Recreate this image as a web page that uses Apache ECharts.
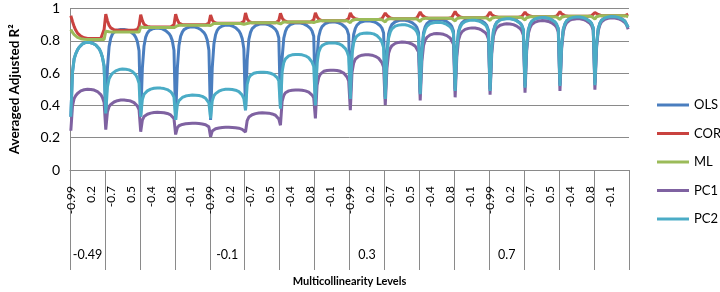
<!DOCTYPE html>
<html>
<head>
<meta charset="utf-8">
<script src="https://cdn.jsdelivr.net/npm/echarts@6.0.0/dist/echarts.min.js"></script>
<style>
  html, body { margin: 0; padding: 0; background: #fff; }
  #chart { width: 720px; height: 292px; }
</style>
</head>
<body>
<div id="chart"></div>
<script>
// inner rho level (21 per block), 16 blocks, outer level label every 4 blocks
const rhoInner = ['-0.99', '-0.9', '-0.8', '-0.7', '-0.6', '-0.5', '-0.4', '-0.3', '-0.2', '-0.1', '0',
  '0.1', '0.2', '0.3', '0.4', '0.5', '0.6', '0.7', '0.8', '0.9', '0.99'];
const blockCount = 16;
const outerLabels = ['-0.49', '', '', '', '-0.1', '', '', '', '0.3', '', '', '', '0.7', '', '', ''];
const seriesNames = ['OLS', 'COR', 'ML', 'PC1', 'PC2'];

// one row per block
const olsR2 = [
  [.33,.606,.689,.721,.744,.760,.772,.781,.785,.79,.79,.79,.788,.785,.781,.774,.765,.751,.730,.698,.643],
  [.34,.631,.764,.817,.841,.854,.862,.866,.868,.87,.87,.87,.868,.866,.862,.856,.849,.838,.822,.796,.738],
  [.33,.631,.768,.823,.848,.862,.869,.874,.876,.878,.878,.878,.876,.874,.869,.863,.856,.845,.829,.801,.741],
  [.31,.627,.771,.828,.854,.869,.877,.881,.884,.886,.886,.886,.884,.881,.877,.870,.863,.851,.834,.805,.742],
  [.31,.633,.780,.838,.865,.879,.888,.892,.895,.897,.897,.897,.895,.892,.888,.881,.874,.862,.844,.815,.750],
  [.37,.680,.809,.852,.875,.887,.894,.899,.902,.904,.905,.905,.904,.902,.899,.894,.888,.881,.870,.854,.819],
  [.39,.692,.817,.859,.881,.893,.901,.905,.908,.910,.911,.911,.910,.908,.905,.901,.894,.888,.877,.861,.828],
  [.41,.704,.826,.866,.888,.900,.907,.911,.914,.916,.917,.917,.916,.914,.911,.907,.901,.894,.884,.869,.836],
  [.45,.725,.839,.877,.897,.908,.915,.918,.921,.923,.924,.924,.923,.921,.918,.915,.909,.903,.893,.879,.848],
  [.45,.727,.842,.880,.901,.912,.918,.922,.925,.927,.928,.928,.927,.925,.922,.918,.913,.906,.897,.883,.852],
  [.48,.742,.851,.887,.906,.917,.923,.927,.929,.931,.932,.932,.931,.929,.927,.923,.918,.912,.903,.889,.860],
  [.50,.753,.858,.892,.911,.921,.927,.931,.933,.935,.936,.936,.935,.933,.931,.927,.922,.916,.908,.895,.866],
  [.50,.755,.861,.896,.915,.925,.931,.935,.937,.939,.940,.940,.939,.937,.935,.931,.926,.920,.911,.898,.870],
  [.52,.766,.868,.902,.920,.930,.936,.939,.941,.943,.944,.944,.943,.941,.939,.936,.930,.925,.916,.904,.876],
  [.53,.772,.872,.905,.923,.933,.939,.942,.944,.946,.947,.947,.946,.944,.942,.939,.934,.928,.920,.907,.880],
  [.54,.778,.876,.909,.927,.936,.942,.945,.948,.949,.950,.950,.949,.948,.945,.942,.937,.932,.923,.911,.884]
];
const corR2 = [
  [.955,.920,.888,.865,.848,.837,.829,.823,.819,.816,.814,.814,.814,.814,.814,.814,.814,.814,.814,.820,.870],
  [.965,.925,.895,.880,.872,.868,.866,.865,.865,.865,.865,.865,.865,.865,.865,.865,.865,.865,.865,.870,.890],
  [.962,.925,.902,.893,.889,.887,.886,.886,.886,.886,.886,.886,.886,.886,.886,.886,.886,.886,.886,.888,.900],
  [.965,.930,.910,.903,.900,.899,.899,.899,.899,.899,.899,.899,.899,.899,.899,.899,.899,.899,.899,.900,.910],
  [.960,.930,.915,.910,.908,.908,.908,.908,.908,.908,.908,.908,.908,.908,.908,.908,.908,.908,.908,.910,.920],
  [.972,.936,.921,.915,.911,.911,.911,.911,.911,.911,.911,.911,.911,.911,.911,.911,.911,.911,.911,.915,.925],
  [.970,.942,.927,.921,.917,.917,.917,.917,.917,.917,.917,.917,.917,.917,.917,.917,.917,.917,.917,.921,.931],
  [.973,.949,.934,.928,.924,.924,.924,.924,.924,.924,.924,.924,.924,.924,.924,.924,.924,.924,.924,.928,.938],
  [.973,.952,.942,.936,.932,.932,.932,.932,.932,.932,.932,.932,.932,.932,.932,.932,.932,.932,.932,.936,.946],
  [.972,.957,.947,.941,.937,.937,.937,.937,.937,.937,.937,.937,.937,.937,.937,.937,.937,.937,.937,.941,.951],
  [.978,.960,.950,.944,.940,.940,.940,.940,.940,.940,.940,.940,.940,.940,.940,.940,.940,.940,.940,.944,.954],
  [.982,.963,.953,.947,.943,.943,.943,.943,.943,.943,.943,.943,.943,.943,.943,.943,.943,.943,.943,.947,.957],
  [.978,.961,.956,.950,.946,.946,.946,.946,.946,.946,.946,.946,.946,.946,.946,.946,.946,.946,.946,.950,.960],
  [.978,.964,.959,.953,.949,.949,.949,.949,.949,.949,.949,.949,.949,.949,.949,.949,.949,.949,.949,.953,.963],
  [.980,.967,.962,.956,.952,.952,.952,.952,.952,.952,.952,.952,.952,.952,.952,.952,.952,.952,.952,.956,.965],
  [.975,.970,.963,.958,.955,.955,.955,.955,.955,.955,.955,.955,.955,.955,.955,.955,.955,.955,.955,.958,.966]
];
const mlR2 = [
  [.870,.852,.838,.828,.821,.816,.813,.811,.810,.809,.808,.808,.808,.808,.808,.808,.808,.808,.808,.808,.808],
  [.860,.857,.856,.855,.855,.855,.855,.855,.855,.855,.855,.855,.855,.855,.855,.855,.855,.855,.855,.855,.855],
  [.885,.883,.882,.882,.882,.882,.882,.882,.882,.882,.882,.882,.882,.882,.882,.882,.882,.882,.882,.882,.882],
  [.885,.893,.897,.897,.897,.897,.897,.897,.897,.897,.897,.897,.897,.897,.897,.897,.897,.897,.897,.897,.893],
  [.895,.903,.907,.907,.907,.907,.907,.907,.907,.907,.907,.907,.907,.907,.907,.907,.907,.907,.907,.907,.903],
  [.899,.907,.911,.911,.911,.911,.911,.911,.911,.911,.911,.911,.911,.911,.911,.911,.911,.911,.911,.911,.907],
  [.905,.913,.917,.917,.917,.917,.917,.917,.917,.917,.917,.917,.917,.917,.917,.917,.917,.917,.917,.917,.913],
  [.912,.920,.924,.924,.924,.924,.924,.924,.924,.924,.924,.924,.924,.924,.924,.924,.924,.924,.924,.924,.920],
  [.912,.926,.932,.932,.932,.932,.932,.932,.932,.932,.932,.932,.932,.932,.932,.932,.932,.932,.932,.930,.926],
  [.917,.931,.937,.937,.937,.937,.937,.937,.937,.937,.937,.937,.937,.937,.937,.937,.937,.937,.937,.935,.931],
  [.920,.934,.940,.940,.940,.940,.940,.940,.940,.940,.940,.940,.940,.940,.940,.940,.940,.940,.940,.938,.934],
  [.923,.937,.943,.943,.943,.943,.943,.943,.943,.943,.943,.943,.943,.943,.943,.943,.943,.943,.943,.941,.937],
  [.926,.940,.946,.946,.946,.946,.946,.946,.946,.946,.946,.946,.946,.946,.946,.946,.946,.946,.946,.944,.940],
  [.929,.943,.949,.949,.949,.949,.949,.949,.949,.949,.949,.949,.949,.949,.949,.949,.949,.949,.949,.947,.943],
  [.932,.946,.952,.952,.952,.952,.952,.952,.952,.952,.952,.952,.952,.952,.952,.952,.952,.952,.952,.950,.946],
  [.935,.949,.955,.955,.955,.955,.955,.955,.955,.955,.955,.955,.955,.955,.955,.955,.955,.955,.955,.953,.949]
];
const pc1R2 = [
  [.243,.397,.443,.461,.474,.483,.490,.495,.497,.500,.500,.500,.499,.497,.495,.491,.486,.478,.467,.449,.418],
  [.25,.360,.393,.406,.415,.421,.426,.429,.431,.433,.433,.433,.432,.431,.429,.427,.423,.417,.409,.396,.374],
  [.237,.309,.331,.339,.345,.349,.352,.355,.356,.357,.357,.357,.356,.356,.355,.353,.350,.347,.341,.333,.319],
  [.22,.261,.274,.279,.282,.285,.286,.288,.288,.289,.289,.289,.289,.288,.288,.287,.285,.283,.280,.275,.267],
  [.206,.241,.251,.255,.258,.260,.262,.263,.263,.264,.264,.264,.264,.263,.263,.262,.261,.259,.256,.252,.245],
  [.235,.306,.328,.336,.342,.346,.349,.352,.353,.354,.354,.354,.353,.353,.352,.350,.347,.344,.339,.330,.316],
  [.277,.425,.462,.478,.485,.490,.492,.494,.495,.495,.495,.495,.495,.494,.492,.490,.486,.482,.475,.464,.447],
  [.32,.523,.573,.594,.605,.611,.614,.616,.617,.618,.618,.618,.617,.616,.614,.611,.606,.600,.591,.576,.552],
  [.371,.604,.662,.686,.698,.704,.709,.711,.712,.713,.713,.713,.712,.711,.709,.704,.699,.692,.682,.665,.638],
  [.402,.628,.722,.753,.770,.779,.784,.787,.790,.791,.792,.792,.791,.790,.787,.784,.780,.774,.767,.755,.730],
  [.43,.671,.770,.804,.821,.831,.837,.840,.843,.844,.845,.845,.844,.843,.840,.837,.832,.826,.818,.806,.779],
  [.45,.699,.803,.837,.855,.865,.871,.875,.877,.879,.880,.880,.879,.877,.875,.871,.866,.861,.852,.839,.811],
  [.466,.721,.826,.861,.880,.890,.896,.900,.902,.904,.905,.905,.904,.902,.900,.896,.891,.885,.876,.863,.835],
  [.479,.738,.845,.880,.900,.910,.916,.920,.922,.924,.925,.925,.924,.922,.920,.916,.911,.905,.896,.883,.854],
  [.489,.749,.856,.892,.911,.922,.928,.932,.934,.936,.937,.937,.936,.934,.932,.928,.923,.917,.908,.894,.865],
  [.497,.755,.862,.898,.917,.927,.933,.937,.939,.941,.942,.942,.941,.939,.937,.933,.928,.922,.913,.900,.871]
];
const pc2R2 = [
  [.33,.606,.689,.721,.744,.760,.772,.781,.785,.79,.79,.79,.788,.785,.781,.774,.765,.751,.730,.698,.643],
  [.35,.515,.565,.584,.598,.607,.614,.620,.622,.625,.625,.625,.624,.622,.620,.615,.610,.602,.589,.570,.537],
  [.33,.437,.469,.481,.490,.496,.501,.504,.506,.508,.508,.508,.507,.506,.504,.502,.498,.493,.485,.472,.451],
  [.31,.402,.430,.441,.449,.454,.458,.461,.462,.464,.464,.464,.463,.462,.461,.459,.456,.451,.444,.433,.415],
  [.32,.428,.460,.473,.482,.488,.493,.496,.498,.500,.500,.500,.499,.498,.496,.494,.490,.485,.477,.464,.442],
  [.37,.530,.570,.586,.594,.599,.602,.604,.605,.605,.605,.605,.605,.604,.602,.599,.596,.591,.584,.572,.553],
  [.38,.608,.665,.688,.700,.707,.711,.713,.714,.715,.715,.715,.714,.713,.711,.707,.702,.695,.685,.668,.641],
  [.40,.663,.729,.756,.770,.777,.782,.785,.786,.787,.787,.787,.786,.785,.782,.777,.772,.764,.752,.733,.702],
  [.44,.717,.787,.815,.830,.838,.843,.846,.847,.848,.848,.848,.847,.846,.843,.838,.832,.824,.811,.791,.758],
  [.44,.707,.817,.854,.874,.884,.891,.894,.897,.899,.900,.900,.899,.897,.894,.891,.885,.879,.870,.856,.826],
  [.47,.728,.835,.871,.890,.900,.906,.910,.912,.914,.915,.915,.914,.912,.910,.906,.901,.895,.886,.873,.844],
  [.49,.744,.849,.884,.903,.913,.919,.923,.925,.927,.928,.928,.927,.925,.923,.919,.914,.908,.900,.886,.858],
  [.49,.749,.857,.892,.912,.922,.928,.932,.934,.936,.937,.937,.936,.934,.932,.928,.923,.917,.908,.895,.865],
  [.51,.762,.867,.902,.920,.930,.936,.940,.942,.944,.945,.945,.944,.942,.940,.936,.931,.925,.917,.904,.875],
  [.52,.768,.871,.905,.924,.933,.939,.943,.945,.947,.948,.948,.947,.945,.943,.939,.934,.929,.920,.907,.880],
  [.525,.771,.873,.908,.926,.936,.942,.945,.947,.949,.950,.950,.949,.947,.945,.942,.936,.931,.922,.910,.882]
];

const COLORS = ['#4a7ebf', '#c9423f', '#9bbb59', '#7f62a1', '#4bacc6'];
const GRID_LINE = '#8a8a8a';
const FONT = 'Lato, "Open Sans", sans-serif';

// x categories: the inner rho labels repeated for every block
const categories = [];
for (let b = 0; b < blockCount; b++) rhoInner.forEach((r) => categories.push(r));

const seriesData = [olsR2, corR2, mlR2, pc1R2, pc2R2].map((rows) => [].concat(...rows));

const chart = echarts.init(document.getElementById('chart'), null, { renderer: 'canvas' });
chart.setOption({
  animation: false,
  textStyle: { fontFamily: FONT },
  grid: { left: 67, right: 91, top: 8.5, bottom: 122 },
  legend: {
    data: seriesNames,
    orient: 'vertical',
    left: 652, top: 92,
    icon: 'rect', itemWidth: 32, itemHeight: 3, itemGap: 12.5,
    textStyle: { fontFamily: FONT, fontSize: 13, lineHeight: 16, color: '#000' },
  },
  xAxis: [
    {
      type: 'category', data: categories, boundaryGap: true,
      axisLine: { lineStyle: { color: GRID_LINE } },
      axisTick: { show: false },
      axisLabel: { interval: 11, rotate: 90, margin: 16, fontSize: 12, color: '#000', fontFamily: FONT },
    },
    {
      // block separators + outer level labels
      type: 'category', data: outerLabels, boundaryGap: true, position: 'bottom',
      axisLine: { show: false },
      axisTick: { show: true, interval: 0, length: 100, lineStyle: { color: GRID_LINE } },
      axisLabel: { interval: 0, margin: 78, fontSize: 12.5, color: '#000', fontFamily: FONT },
      name: 'Multicollinearity Levels', nameLocation: 'middle', nameGap: 106,
      nameTextStyle: { fontWeight: 'bold', fontSize: 11, color: '#000', fontFamily: FONT },
    },
  ],
  yAxis: {
    type: 'value', min: 0, max: 1, interval: 0.2,
    axisLine: { show: true, lineStyle: { color: GRID_LINE } },
    axisTick: { show: false },
    splitLine: { lineStyle: { color: GRID_LINE } },
    axisLabel: { fontSize: 14, color: '#000', margin: 10, fontFamily: FONT },
    name: 'Averaged Adjusted R²', nameLocation: 'middle', nameGap: 48,
    nameTextStyle: { fontWeight: 'bold', fontSize: 13.5, color: '#000', fontFamily: FONT },
  },
  series: seriesNames.map((name, i) => ({
    name, type: 'line', xAxisIndex: 0, data: seriesData[i],
    symbol: 'none', silent: true,
    lineStyle: { color: COLORS[i], width: 3 },
    itemStyle: { color: COLORS[i] },
  })),
});
</script>
</body>
</html>
